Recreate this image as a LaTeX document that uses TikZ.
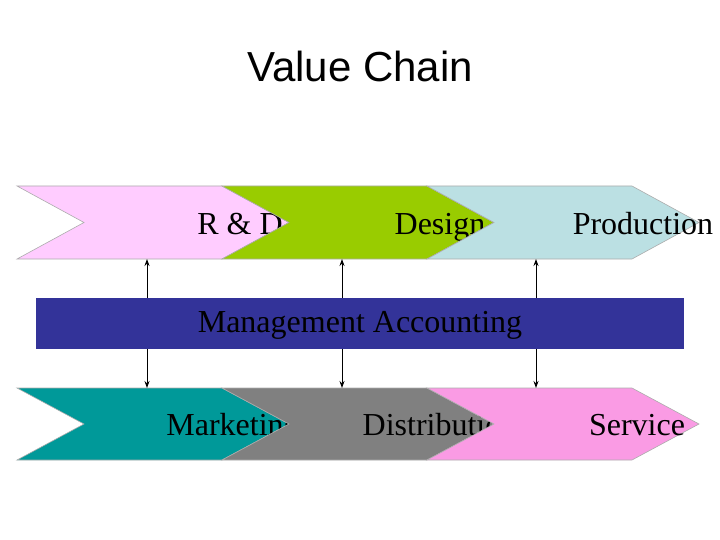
\documentclass[tikz,border=0pt]{standalone}
\usepackage{fontspec}
\setmainfont{Liberation Serif}
\newfontfamily\titlefont{Liberation Sans}
\usetikzlibrary{arrows.meta}
\definecolor{rdpink}{RGB}{255,204,255}
\definecolor{leaf}{RGB}{153,204,0}
\definecolor{mist}{RGB}{187,224,227}
\definecolor{teal}{RGB}{0,153,153}
\definecolor{slate}{RGB}{128,128,128}
\definecolor{rose}{RGB}{250,155,228}
\definecolor{indigo}{RGB}{51,51,153}
\tikzset{
  x=1pt,y=-1pt,
  >={Stealth[length=7pt,width=5pt]},
  chev/.style={fill=#1,draw=gray!65,line width=0.6pt},
  lbl/.style={font=\fontsize{32}{36}\selectfont,inner sep=0pt,anchor=base},
  link/.style={->,line width=0.9pt,black},
}
\begin{document}
\begin{tikzpicture}
  \useasboundingbox (0,0) rectangle (720,540);
  \node[font=\titlefont\fontsize{42}{48}\selectfont,inner sep=0pt,anchor=base] (title) at (360,82) {Value Chain};
  % top row of chevrons
  \foreach \x/\c/\tx/\t/\n/\ax in {17/rdpink/240/R \& D/rd/147,222/leaf/440/Design/design/342,427/mist/643/Production/prod/536}{
    \draw[chev=\c] (\x,186) -- ++(205,0) -- ++(67,36.5) -- ++(-67,36.5) -- ++(-205,0) -- ++(67,-36.5) -- cycle;
    \node[lbl] (\n) at (\tx,235) {\t};
    \coordinate (\n-s) at (\ax,259);
  }
  % bottom row of chevrons
  \foreach \x/\c/\tx/\t/\n/\ax in {17/teal/233/Marketing/mkt/147,222/slate/440/Distribution/dist/342,427/rose/637/Service/serv/536}{
    \draw[chev=\c] (\x,388) -- ++(205,0) -- ++(67,36) -- ++(-67,36) -- ++(-205,0) -- ++(67,-36) -- cycle;
    \node[lbl] (\n) at (\tx,435) {\t};
    \coordinate (\n-n) at (\ax,388);
  }
  \node[fill=indigo,minimum width=648pt,minimum height=51pt,inner sep=0pt] (bar) at (360,323.5) {};
  \node[lbl] (ma) at (360,332) {Management Accounting};
  \foreach \a/\b in {rd/mkt,design/dist,prod/serv}{
    \draw[link] (bar.north -| \a-s) -- (\a-s);
    \draw[link] (bar.south -| \b-n) -- (\b-n);
  }
\end{tikzpicture}
\end{document}
